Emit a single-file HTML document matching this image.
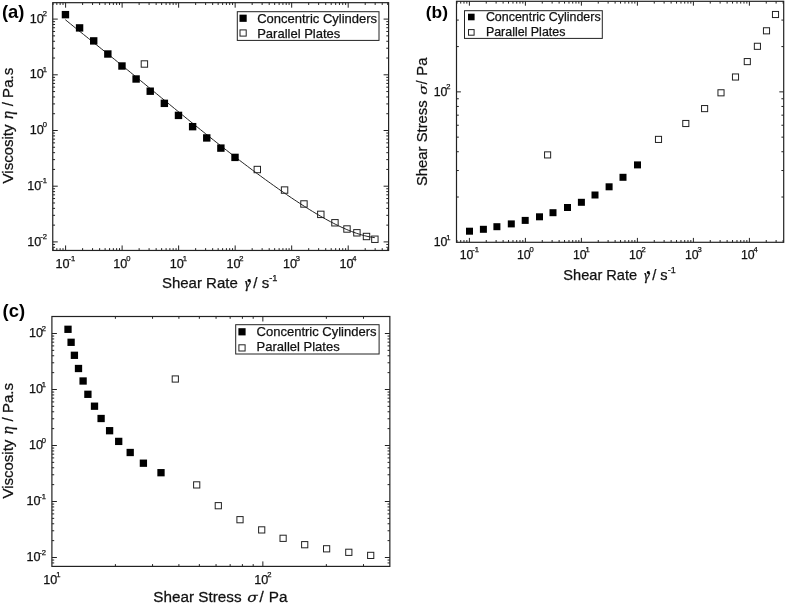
<!DOCTYPE html><html><head><meta charset="utf-8"><title>Rheology figure</title><style>html,body{margin:0;padding:0;background:#fff}svg{display:block}text{stroke:#111;stroke-width:.25px}text.b{stroke:none}</style></head><body><svg width="785" height="604" viewBox="0 0 785 604" font-family='"Liberation Sans", sans-serif' fill="#111">
<rect width="785" height="604" fill="#fff"/>
<rect x="141.2" y="60.8" width="6.4" height="6.4" fill="#fff" stroke="#222" stroke-width="1"/><rect x="254.11" y="166.32" width="6.4" height="6.4" fill="#fff" stroke="#222" stroke-width="1"/><rect x="281.37" y="186.86" width="6.4" height="6.4" fill="#fff" stroke="#222" stroke-width="1"/><rect x="300.76" y="200.77" width="6.4" height="6.4" fill="#fff" stroke="#222" stroke-width="1"/><rect x="317.6" y="211.17" width="6.4" height="6.4" fill="#fff" stroke="#222" stroke-width="1"/><rect x="331.75" y="219.58" width="6.4" height="6.4" fill="#fff" stroke="#222" stroke-width="1"/><rect x="343.78" y="225.8" width="6.4" height="6.4" fill="#fff" stroke="#222" stroke-width="1"/><rect x="353.7" y="229.6" width="6.4" height="6.4" fill="#fff" stroke="#222" stroke-width="1"/><rect x="363.3" y="233.3" width="6.4" height="6.4" fill="#fff" stroke="#222" stroke-width="1"/><rect x="371.67" y="236.05" width="6.4" height="6.4" fill="#fff" stroke="#222" stroke-width="1"/>
<path d="M65.3 19.68 L67.9 21.81 L70.5 23.93 L73.1 26.04 L75.7 28.15 L78.3 30.25 L80.91 32.34 L83.51 34.44 L86.11 36.53 L88.71 38.61 L91.31 40.7 L93.91 42.79 L96.51 44.88 L99.11 46.97 L101.71 49.06 L104.31 51.15 L106.91 53.25 L109.51 55.34 L112.12 57.45 L114.72 59.55 L117.32 61.66 L119.92 63.77 L122.52 65.88 L125.12 68 L127.72 70.12 L130.32 72.24 L132.92 74.36 L135.52 76.49 L138.12 78.62 L140.72 80.75 L143.33 82.89 L145.93 85.02 L148.53 87.16 L151.13 89.3 L153.73 91.44 L156.33 93.58 L158.93 95.72 L161.53 97.86 L164.13 100 L166.73 102.13 L169.33 104.27 L171.93 106.4 L174.54 108.54 L177.14 110.67 L179.74 112.8 L182.34 114.92 L184.94 117.04 L187.54 119.16 L190.14 121.27 L192.74 123.38 L195.34 125.49 L197.94 127.59 L200.54 129.68 L203.14 131.77 L205.75 133.86 L208.35 135.93 L210.95 138.01 L213.55 140.07 L216.15 142.13 L218.75 144.18 L221.35 146.23 L223.95 148.26 L226.55 150.29 L229.15 152.31 L231.75 154.33 L234.35 156.33 L236.96 158.33 L239.56 160.32 L242.16 162.3 L244.76 164.27 L247.36 166.23 L249.96 168.19 L252.56 170.13 L255.16 172.06 L257.76 173.99 L260.36 175.9 L262.96 177.8 L265.56 179.69 L268.17 181.57 L270.77 183.44 L273.37 185.3 L275.97 187.14 L278.57 188.97 L281.17 190.79 L283.77 192.6 L286.37 194.39 L288.97 196.16 L291.57 197.92 L294.17 199.66 L296.77 201.39 L299.38 203.09 L301.98 204.78 L304.58 206.45 L307.18 208.1 L309.78 209.72 L312.38 211.33 L314.98 212.9 L317.58 214.46 L320.18 215.98 L322.78 217.47 L325.38 218.94 L327.98 220.37 L330.59 221.77 L333.19 223.13 L335.79 224.45 L338.39 225.73 L340.99 226.96 L343.59 228.15 L346.19 229.3 L348.79 230.39 L351.39 231.42 L353.99 232.4 L356.59 233.31 L359.19 234.16 L361.8 234.94 L364.4 235.65 L367 236.28 L369.6 236.83 L372.2 237.3 L374.8 237.67" fill="none" stroke="#222" stroke-width="1"/>
<rect x="61.75" y="10.95" width="7.4" height="7.4" fill="#000"/><rect x="75.88" y="24.2" width="7.4" height="7.4" fill="#000"/><rect x="90.01" y="37.2" width="7.4" height="7.4" fill="#000"/><rect x="104.14" y="50.3" width="7.4" height="7.4" fill="#000"/><rect x="118.27" y="62.3" width="7.4" height="7.4" fill="#000"/><rect x="132.4" y="75.3" width="7.4" height="7.4" fill="#000"/><rect x="146.53" y="87.5" width="7.4" height="7.4" fill="#000"/><rect x="160.66" y="99.65" width="7.4" height="7.4" fill="#000"/><rect x="174.79" y="111.7" width="7.4" height="7.4" fill="#000"/><rect x="188.92" y="122.96" width="7.4" height="7.4" fill="#000"/><rect x="203.05" y="134.24" width="7.4" height="7.4" fill="#000"/><rect x="217.18" y="144.4" width="7.4" height="7.4" fill="#000"/><rect x="231.31" y="153.69" width="7.4" height="7.4" fill="#000"/>
<path d="M53.06 250.45v-2.3M53.06 2.68v2.3M56.84 250.45v-2.3M56.84 2.68v2.3M60.12 250.45v-2.3M60.12 2.68v2.3M63.01 250.45v-2.3M63.01 2.68v2.3M65.6 250.45v-5M65.6 2.68v5M82.61 250.45v-2.3M82.61 2.68v2.3M92.57 250.45v-2.3M92.57 2.68v2.3M99.63 250.45v-2.3M99.63 2.68v2.3M105.11 250.45v-2.3M105.11 2.68v2.3M109.58 250.45v-2.3M109.58 2.68v2.3M113.36 250.45v-2.3M113.36 2.68v2.3M116.64 250.45v-2.3M116.64 2.68v2.3M119.53 250.45v-2.3M119.53 2.68v2.3M122.12 250.45v-5M122.12 2.68v5M139.13 250.45v-2.3M139.13 2.68v2.3M149.09 250.45v-2.3M149.09 2.68v2.3M156.15 250.45v-2.3M156.15 2.68v2.3M161.63 250.45v-2.3M161.63 2.68v2.3M166.1 250.45v-2.3M166.1 2.68v2.3M169.88 250.45v-2.3M169.88 2.68v2.3M173.16 250.45v-2.3M173.16 2.68v2.3M176.05 250.45v-2.3M176.05 2.68v2.3M178.64 250.45v-5M178.64 2.68v5M195.65 250.45v-2.3M195.65 2.68v2.3M205.61 250.45v-2.3M205.61 2.68v2.3M212.67 250.45v-2.3M212.67 2.68v2.3M218.15 250.45v-2.3M218.15 2.68v2.3M222.62 250.45v-2.3M222.62 2.68v2.3M226.4 250.45v-2.3M226.4 2.68v2.3M229.68 250.45v-2.3M229.68 2.68v2.3M232.57 250.45v-2.3M232.57 2.68v2.3M235.16 250.45v-5M235.16 2.68v5M252.17 250.45v-2.3M252.17 2.68v2.3M262.13 250.45v-2.3M262.13 2.68v2.3M269.19 250.45v-2.3M269.19 2.68v2.3M274.67 250.45v-2.3M274.67 2.68v2.3M279.14 250.45v-2.3M279.14 2.68v2.3M282.92 250.45v-2.3M282.92 2.68v2.3M286.2 250.45v-2.3M286.2 2.68v2.3M289.09 250.45v-2.3M289.09 2.68v2.3M291.68 250.45v-5M291.68 2.68v5M308.69 250.45v-2.3M308.69 2.68v2.3M318.65 250.45v-2.3M318.65 2.68v2.3M325.71 250.45v-2.3M325.71 2.68v2.3M331.19 250.45v-2.3M331.19 2.68v2.3M335.66 250.45v-2.3M335.66 2.68v2.3M339.44 250.45v-2.3M339.44 2.68v2.3M342.72 250.45v-2.3M342.72 2.68v2.3M345.61 250.45v-2.3M345.61 2.68v2.3M348.2 250.45v-5M348.2 2.68v5M365.21 250.45v-2.3M365.21 2.68v2.3M375.17 250.45v-2.3M375.17 2.68v2.3M382.23 250.45v-2.3M382.23 2.68v2.3M387.71 250.45v-2.3M387.71 2.68v2.3M52.75 247.3h2.3M388.6 247.3h-2.3M52.75 244.45h2.3M388.6 244.45h-2.3M52.75 241.9h5M388.6 241.9h-5M52.75 225.13h2.3M388.6 225.13h-2.3M52.75 215.32h2.3M388.6 215.32h-2.3M52.75 208.37h2.3M388.6 208.37h-2.3M52.75 202.97h2.3M388.6 202.97h-2.3M52.75 198.56h2.3M388.6 198.56h-2.3M52.75 194.83h2.3M388.6 194.83h-2.3M52.75 191.6h2.3M388.6 191.6h-2.3M52.75 188.75h2.3M388.6 188.75h-2.3M52.75 186.2h5M388.6 186.2h-5M52.75 169.43h2.3M388.6 169.43h-2.3M52.75 159.62h2.3M388.6 159.62h-2.3M52.75 152.67h2.3M388.6 152.67h-2.3M52.75 147.27h2.3M388.6 147.27h-2.3M52.75 142.86h2.3M388.6 142.86h-2.3M52.75 139.13h2.3M388.6 139.13h-2.3M52.75 135.9h2.3M388.6 135.9h-2.3M52.75 133.05h2.3M388.6 133.05h-2.3M52.75 130.5h5M388.6 130.5h-5M52.75 113.73h2.3M388.6 113.73h-2.3M52.75 103.92h2.3M388.6 103.92h-2.3M52.75 96.97h2.3M388.6 96.97h-2.3M52.75 91.57h2.3M388.6 91.57h-2.3M52.75 87.16h2.3M388.6 87.16h-2.3M52.75 83.43h2.3M388.6 83.43h-2.3M52.75 80.2h2.3M388.6 80.2h-2.3M52.75 77.35h2.3M388.6 77.35h-2.3M52.75 74.8h5M388.6 74.8h-5M52.75 58.03h2.3M388.6 58.03h-2.3M52.75 48.22h2.3M388.6 48.22h-2.3M52.75 41.27h2.3M388.6 41.27h-2.3M52.75 35.87h2.3M388.6 35.87h-2.3M52.75 31.46h2.3M388.6 31.46h-2.3M52.75 27.73h2.3M388.6 27.73h-2.3M52.75 24.5h2.3M388.6 24.5h-2.3M52.75 21.65h2.3M388.6 21.65h-2.3M52.75 19.1h5M388.6 19.1h-5" stroke="#222" stroke-width="1" fill="none"/>
<rect x="52.75" y="2.68" width="335.85" height="247.77" fill="none" stroke="#222" stroke-width="1.2"/>
<text x="65.4" y="267.5" text-anchor="middle" font-size="12.6">10<tspan font-size="7.6" dy="-6.7" dx="-1.1">-1</tspan></text>
<text x="121.92" y="267.5" text-anchor="middle" font-size="12.6">10<tspan font-size="7.6" dy="-6.7" dx="-1.1">0</tspan></text>
<text x="178.44" y="267.5" text-anchor="middle" font-size="12.6">10<tspan font-size="7.6" dy="-6.7" dx="-1.1">1</tspan></text>
<text x="234.96" y="267.5" text-anchor="middle" font-size="12.6">10<tspan font-size="7.6" dy="-6.7" dx="-1.1">2</tspan></text>
<text x="291.48" y="267.5" text-anchor="middle" font-size="12.6">10<tspan font-size="7.6" dy="-6.7" dx="-1.1">3</tspan></text>
<text x="348" y="267.5" text-anchor="middle" font-size="12.6">10<tspan font-size="7.6" dy="-6.7" dx="-1.1">4</tspan></text>
<text x="47" y="245.5" text-anchor="end" font-size="12.6">10<tspan font-size="7.6" dy="-6.7" dx="-1.1">-2</tspan></text>
<text x="47" y="189.8" text-anchor="end" font-size="12.6">10<tspan font-size="7.6" dy="-6.7" dx="-1.1">-1</tspan></text>
<text x="47" y="134.1" text-anchor="end" font-size="12.6">10<tspan font-size="7.6" dy="-6.7" dx="-1.1">0</tspan></text>
<text x="47" y="78.4" text-anchor="end" font-size="12.6">10<tspan font-size="7.6" dy="-6.7" dx="-1.1">1</tspan></text>
<text x="47" y="22.7" text-anchor="end" font-size="12.6">10<tspan font-size="7.6" dy="-6.7" dx="-1.1">2</tspan></text>
<rect x="237.3" y="11.7" width="141.7" height="28.7" fill="#fff" stroke="#222" stroke-width="1"/><rect x="239.5" y="14.65" width="7.2" height="7.2" fill="#000"/><rect x="240" y="29.9" width="6.2" height="6.2" fill="#fff" stroke="#222" stroke-width="1"/><text x="257.2" y="22.8" font-size="13">Concentric Cylinders</text><text x="257.2" y="37.8" font-size="13">Parallel Plates</text>
<text x="161.9" y="287.9" font-size="15">Shear Rate</text><text x="244.7" y="287.9" font-size="15" font-style="italic" font-family='"Liberation Serif", "DejaVu Serif", serif'>γ</text><text x="247" y="285" font-size="12" font-family='"Liberation Serif", "DejaVu Serif", serif' fill="#000">•</text><text x="253.3" y="287.9" font-size="15">/ s</text><text x="269.3" y="280.5" font-size="9.2">-1</text>
<g transform="translate(13.3,183.4) rotate(-90)" font-size="15"><text x="0" y="0">Viscosity</text><text x="64.4" y="0" font-size="16.5" font-style="italic" font-family='"Liberation Serif", "DejaVu Serif", serif'>η</text><text x="77.2" y="0">/ Pa.s</text></g>
<text x="2" y="17.8" font-size="18.4" font-weight="bold" fill="#000" class="b">(a)</text>
<rect x="466" y="227.7" width="7" height="7" fill="#000"/><rect x="479.9" y="225.8" width="7" height="7" fill="#000"/><rect x="493.4" y="223.2" width="7" height="7" fill="#000"/><rect x="507.8" y="220.4" width="7" height="7" fill="#000"/><rect x="521.7" y="216.9" width="7" height="7" fill="#000"/><rect x="536" y="213.3" width="7" height="7" fill="#000"/><rect x="549.5" y="209.2" width="7" height="7" fill="#000"/><rect x="564" y="204" width="7" height="7" fill="#000"/><rect x="577.9" y="198.8" width="7" height="7" fill="#000"/><rect x="591.5" y="191.5" width="7" height="7" fill="#000"/><rect x="605.6" y="183.3" width="7" height="7" fill="#000"/><rect x="619.5" y="173.8" width="7" height="7" fill="#000"/><rect x="634" y="161.4" width="7" height="7" fill="#000"/>
<rect x="544.55" y="151.85" width="6.1" height="6.1" fill="#fff" stroke="#222" stroke-width="1"/><rect x="655.45" y="136.35" width="6.1" height="6.1" fill="#fff" stroke="#222" stroke-width="1"/><rect x="682.75" y="120.45" width="6.1" height="6.1" fill="#fff" stroke="#222" stroke-width="1"/><rect x="701.55" y="105.55" width="6.1" height="6.1" fill="#fff" stroke="#222" stroke-width="1"/><rect x="717.95" y="89.75" width="6.1" height="6.1" fill="#fff" stroke="#222" stroke-width="1"/><rect x="732.45" y="73.95" width="6.1" height="6.1" fill="#fff" stroke="#222" stroke-width="1"/><rect x="744.25" y="58.55" width="6.1" height="6.1" fill="#fff" stroke="#222" stroke-width="1"/><rect x="754.35" y="43.25" width="6.1" height="6.1" fill="#fff" stroke="#222" stroke-width="1"/><rect x="763.45" y="27.75" width="6.1" height="6.1" fill="#fff" stroke="#222" stroke-width="1"/><rect x="772.45" y="11.45" width="6.1" height="6.1" fill="#fff" stroke="#222" stroke-width="1"/>
<path d="M456.98 242.3v-2.3M456.98 1.3v2.3M460.73 242.3v-2.3M460.73 1.3v2.3M463.97 242.3v-2.3M463.97 1.3v2.3M466.84 242.3v-2.3M466.84 1.3v2.3M469.4 242.3v-4.4M469.4 1.3v4.4M486.26 242.3v-2.3M486.26 1.3v2.3M496.12 242.3v-2.3M496.12 1.3v2.3M503.12 242.3v-2.3M503.12 1.3v2.3M508.54 242.3v-2.3M508.54 1.3v2.3M512.98 242.3v-2.3M512.98 1.3v2.3M516.73 242.3v-2.3M516.73 1.3v2.3M519.97 242.3v-2.3M519.97 1.3v2.3M522.84 242.3v-2.3M522.84 1.3v2.3M525.4 242.3v-4.4M525.4 1.3v4.4M542.26 242.3v-2.3M542.26 1.3v2.3M552.12 242.3v-2.3M552.12 1.3v2.3M559.12 242.3v-2.3M559.12 1.3v2.3M564.54 242.3v-2.3M564.54 1.3v2.3M568.98 242.3v-2.3M568.98 1.3v2.3M572.73 242.3v-2.3M572.73 1.3v2.3M575.97 242.3v-2.3M575.97 1.3v2.3M578.84 242.3v-2.3M578.84 1.3v2.3M581.4 242.3v-4.4M581.4 1.3v4.4M598.26 242.3v-2.3M598.26 1.3v2.3M608.12 242.3v-2.3M608.12 1.3v2.3M615.12 242.3v-2.3M615.12 1.3v2.3M620.54 242.3v-2.3M620.54 1.3v2.3M624.98 242.3v-2.3M624.98 1.3v2.3M628.73 242.3v-2.3M628.73 1.3v2.3M631.97 242.3v-2.3M631.97 1.3v2.3M634.84 242.3v-2.3M634.84 1.3v2.3M637.4 242.3v-4.4M637.4 1.3v4.4M654.26 242.3v-2.3M654.26 1.3v2.3M664.12 242.3v-2.3M664.12 1.3v2.3M671.12 242.3v-2.3M671.12 1.3v2.3M676.54 242.3v-2.3M676.54 1.3v2.3M680.98 242.3v-2.3M680.98 1.3v2.3M684.73 242.3v-2.3M684.73 1.3v2.3M687.97 242.3v-2.3M687.97 1.3v2.3M690.84 242.3v-2.3M690.84 1.3v2.3M693.4 242.3v-4.4M693.4 1.3v4.4M710.26 242.3v-2.3M710.26 1.3v2.3M720.12 242.3v-2.3M720.12 1.3v2.3M727.12 242.3v-2.3M727.12 1.3v2.3M732.54 242.3v-2.3M732.54 1.3v2.3M736.98 242.3v-2.3M736.98 1.3v2.3M740.73 242.3v-2.3M740.73 1.3v2.3M743.97 242.3v-2.3M743.97 1.3v2.3M746.84 242.3v-2.3M746.84 1.3v2.3M749.4 242.3v-4.4M749.4 1.3v4.4M766.26 242.3v-2.3M766.26 1.3v2.3M776.12 242.3v-2.3M776.12 1.3v2.3M783.12 242.3v-2.3M783.12 1.3v2.3M456.5 197.02h2.3M783.7 197.02h-2.3M456.5 170.53h2.3M783.7 170.53h-2.3M456.5 151.73h2.3M783.7 151.73h-2.3M456.5 137.15h2.3M783.7 137.15h-2.3M456.5 125.24h2.3M783.7 125.24h-2.3M456.5 115.17h2.3M783.7 115.17h-2.3M456.5 106.45h2.3M783.7 106.45h-2.3M456.5 98.75h2.3M783.7 98.75h-2.3M456.5 91.87h4.4M783.7 91.87h-4.4M456.5 46.58h2.3M783.7 46.58h-2.3M456.5 20.09h2.3M783.7 20.09h-2.3" stroke="#222" stroke-width="1" fill="none"/>
<rect x="456.5" y="1.3" width="327.2" height="241" fill="none" stroke="#222" stroke-width="1.2"/>
<text x="469.4" y="259" text-anchor="middle" font-size="12.3">10<tspan font-size="7.6" dy="-6.7" dx="-1.1">-1</tspan></text>
<text x="525.4" y="259" text-anchor="middle" font-size="12.3">10<tspan font-size="7.6" dy="-6.7" dx="-1.1">0</tspan></text>
<text x="581.4" y="259" text-anchor="middle" font-size="12.3">10<tspan font-size="7.6" dy="-6.7" dx="-1.1">1</tspan></text>
<text x="637.4" y="259" text-anchor="middle" font-size="12.3">10<tspan font-size="7.6" dy="-6.7" dx="-1.1">2</tspan></text>
<text x="693.4" y="259" text-anchor="middle" font-size="12.3">10<tspan font-size="7.6" dy="-6.7" dx="-1.1">3</tspan></text>
<text x="749.4" y="259" text-anchor="middle" font-size="12.3">10<tspan font-size="7.6" dy="-6.7" dx="-1.1">4</tspan></text>
<text x="450.6" y="246.3" text-anchor="end" font-size="12.3">10<tspan font-size="7.6" dy="-6.7" dx="-1.1">1</tspan></text>
<text x="450.6" y="95.87" text-anchor="end" font-size="12.3">10<tspan font-size="7.6" dy="-6.7" dx="-1.1">2</tspan></text>
<rect x="464.5" y="10.7" width="137.8" height="27.7" fill="#fff" stroke="#222" stroke-width="1"/><rect x="468" y="13.7" width="6.6" height="6.6" fill="#000"/><rect x="468.5" y="29.6" width="5.6" height="5.6" fill="#fff" stroke="#222" stroke-width="1"/><text x="485.9" y="20.9" font-size="12.45">Concentric Cylinders</text><text x="485.9" y="35.7" font-size="12.45">Parallel Plates</text>
<text x="563.3" y="280.1" font-size="14.6">Shear Rate</text><text x="643.89" y="280.1" font-size="14.6" font-style="italic" font-family='"Liberation Serif", "DejaVu Serif", serif'>γ</text><text x="646.13" y="277.28" font-size="11.68" font-family='"Liberation Serif", "DejaVu Serif", serif' fill="#000">•</text><text x="652.26" y="280.1" font-size="14.6">/ s</text><text x="667.84" y="272.9" font-size="8.95">-1</text>
<g transform="translate(426.9,186.1) rotate(-90) scale(0.99)" font-size="15"><text x="0" y="0">Shear Stress</text><text transform="translate(92.2,0) scale(1.25,1)" font-size="12" font-style="italic" font-family='"DejaVu Serif", serif'>σ</text><text x="102.7" y="0">/</text><text x="111.5" y="0">Pa</text></g>
<text x="425.8" y="17.8" font-size="17.4" font-weight="bold" fill="#000" class="b">(b)</text>
<rect x="64.35" y="325.65" width="7.3" height="7.3" fill="#000"/><rect x="67.45" y="338.65" width="7.3" height="7.3" fill="#000"/><rect x="70.75" y="351.65" width="7.3" height="7.3" fill="#000"/><rect x="74.85" y="364.85" width="7.3" height="7.3" fill="#000"/><rect x="79.45" y="377.35" width="7.3" height="7.3" fill="#000"/><rect x="84.25" y="390.65" width="7.3" height="7.3" fill="#000"/><rect x="90.85" y="402.55" width="7.3" height="7.3" fill="#000"/><rect x="97.45" y="414.85" width="7.3" height="7.3" fill="#000"/><rect x="105.95" y="427.05" width="7.3" height="7.3" fill="#000"/><rect x="115.05" y="437.75" width="7.3" height="7.3" fill="#000"/><rect x="126.55" y="448.85" width="7.3" height="7.3" fill="#000"/><rect x="139.75" y="459.55" width="7.3" height="7.3" fill="#000"/><rect x="157.35" y="469.05" width="7.3" height="7.3" fill="#000"/>
<rect x="172.2" y="375.9" width="6.2" height="6.2" fill="#fff" stroke="#222" stroke-width="1"/><rect x="193.6" y="481.8" width="6.2" height="6.2" fill="#fff" stroke="#222" stroke-width="1"/><rect x="215.2" y="502.6" width="6.2" height="6.2" fill="#fff" stroke="#222" stroke-width="1"/><rect x="236.9" y="516.6" width="6.2" height="6.2" fill="#fff" stroke="#222" stroke-width="1"/><rect x="258.6" y="526.8" width="6.2" height="6.2" fill="#fff" stroke="#222" stroke-width="1"/><rect x="280" y="535.2" width="6.2" height="6.2" fill="#fff" stroke="#222" stroke-width="1"/><rect x="301.6" y="541.6" width="6.2" height="6.2" fill="#fff" stroke="#222" stroke-width="1"/><rect x="323.5" y="545.7" width="6.2" height="6.2" fill="#fff" stroke="#222" stroke-width="1"/><rect x="345.7" y="549.2" width="6.2" height="6.2" fill="#fff" stroke="#222" stroke-width="1"/><rect x="367.6" y="552.3" width="6.2" height="6.2" fill="#fff" stroke="#222" stroke-width="1"/>
<path d="M115.4 566.4v-2.3M115.4 316.5v2.3M152.55 566.4v-2.3M152.55 316.5v2.3M178.9 566.4v-2.3M178.9 316.5v2.3M199.35 566.4v-2.3M199.35 316.5v2.3M216.05 566.4v-2.3M216.05 316.5v2.3M230.17 566.4v-2.3M230.17 316.5v2.3M242.4 566.4v-2.3M242.4 316.5v2.3M253.19 566.4v-2.3M253.19 316.5v2.3M262.85 566.4v-5M262.85 316.5v5M326.35 566.4v-2.3M326.35 316.5v2.3M363.49 566.4v-2.3M363.49 316.5v2.3M51.9 562.93h2.3M389.85 562.93h-2.3M51.9 560.06h2.3M389.85 560.06h-2.3M51.9 557.5h5M389.85 557.5h-5M51.9 540.64h2.3M389.85 540.64h-2.3M51.9 530.78h2.3M389.85 530.78h-2.3M51.9 523.78h2.3M389.85 523.78h-2.3M51.9 518.36h2.3M389.85 518.36h-2.3M51.9 513.92h2.3M389.85 513.92h-2.3M51.9 510.17h2.3M389.85 510.17h-2.3M51.9 506.93h2.3M389.85 506.93h-2.3M51.9 504.06h2.3M389.85 504.06h-2.3M51.9 501.5h5M389.85 501.5h-5M51.9 484.64h2.3M389.85 484.64h-2.3M51.9 474.78h2.3M389.85 474.78h-2.3M51.9 467.78h2.3M389.85 467.78h-2.3M51.9 462.36h2.3M389.85 462.36h-2.3M51.9 457.92h2.3M389.85 457.92h-2.3M51.9 454.17h2.3M389.85 454.17h-2.3M51.9 450.93h2.3M389.85 450.93h-2.3M51.9 448.06h2.3M389.85 448.06h-2.3M51.9 445.5h5M389.85 445.5h-5M51.9 428.64h2.3M389.85 428.64h-2.3M51.9 418.78h2.3M389.85 418.78h-2.3M51.9 411.78h2.3M389.85 411.78h-2.3M51.9 406.36h2.3M389.85 406.36h-2.3M51.9 401.92h2.3M389.85 401.92h-2.3M51.9 398.17h2.3M389.85 398.17h-2.3M51.9 394.93h2.3M389.85 394.93h-2.3M51.9 392.06h2.3M389.85 392.06h-2.3M51.9 389.5h5M389.85 389.5h-5M51.9 372.64h2.3M389.85 372.64h-2.3M51.9 362.78h2.3M389.85 362.78h-2.3M51.9 355.78h2.3M389.85 355.78h-2.3M51.9 350.36h2.3M389.85 350.36h-2.3M51.9 345.92h2.3M389.85 345.92h-2.3M51.9 342.17h2.3M389.85 342.17h-2.3M51.9 338.93h2.3M389.85 338.93h-2.3M51.9 336.06h2.3M389.85 336.06h-2.3M51.9 333.5h5M389.85 333.5h-5" stroke="#222" stroke-width="1" fill="none"/>
<rect x="51.9" y="316.5" width="337.95" height="249.9" fill="none" stroke="#222" stroke-width="1.2"/>
<text x="51.9" y="583.8" text-anchor="middle" font-size="12.6">10<tspan font-size="7.6" dy="-6.7" dx="-1.1">1</tspan></text>
<text x="262.85" y="583.8" text-anchor="middle" font-size="12.6">10<tspan font-size="7.6" dy="-6.7" dx="-1.1">2</tspan></text>
<text x="46.1" y="561.3" text-anchor="end" font-size="12.6">10<tspan font-size="7.6" dy="-6.7" dx="-1.1">-2</tspan></text>
<text x="46.1" y="505.3" text-anchor="end" font-size="12.6">10<tspan font-size="7.6" dy="-6.7" dx="-1.1">-1</tspan></text>
<text x="46.1" y="449.3" text-anchor="end" font-size="12.6">10<tspan font-size="7.6" dy="-6.7" dx="-1.1">0</tspan></text>
<text x="46.1" y="393.3" text-anchor="end" font-size="12.6">10<tspan font-size="7.6" dy="-6.7" dx="-1.1">1</tspan></text>
<text x="46.1" y="337.3" text-anchor="end" font-size="12.6">10<tspan font-size="7.6" dy="-6.7" dx="-1.1">2</tspan></text>
<rect x="235.7" y="324.7" width="143.4" height="29.3" fill="#fff" stroke="#222" stroke-width="1"/><rect x="238.4" y="328.2" width="7.2" height="7.2" fill="#000"/><rect x="238.9" y="344.8" width="6.2" height="6.2" fill="#fff" stroke="#222" stroke-width="1"/><text x="256.6" y="335.7" font-size="13">Concentric Cylinders</text><text x="256.6" y="351" font-size="13">Parallel Plates</text>
<g transform="translate(153.3,601.6) scale(1.02)" font-size="15"><text x="0" y="0">Shear Stress</text><text transform="translate(92.2,0) scale(1.25,1)" font-size="12" font-style="italic" font-family='"DejaVu Serif", serif'>σ</text><text x="104" y="0">/</text><text x="113.3" y="0">Pa</text></g>
<g transform="translate(13.3,498.6) rotate(-90)" font-size="15"><text x="0" y="0">Viscosity</text><text x="64.4" y="0" font-size="16.5" font-style="italic" font-family='"Liberation Serif", "DejaVu Serif", serif'>η</text><text x="77.2" y="0">/ Pa.s</text></g>
<text x="2.6" y="316.7" font-size="18.4" font-weight="bold" fill="#000" class="b">(c)</text>
</svg></body></html>
